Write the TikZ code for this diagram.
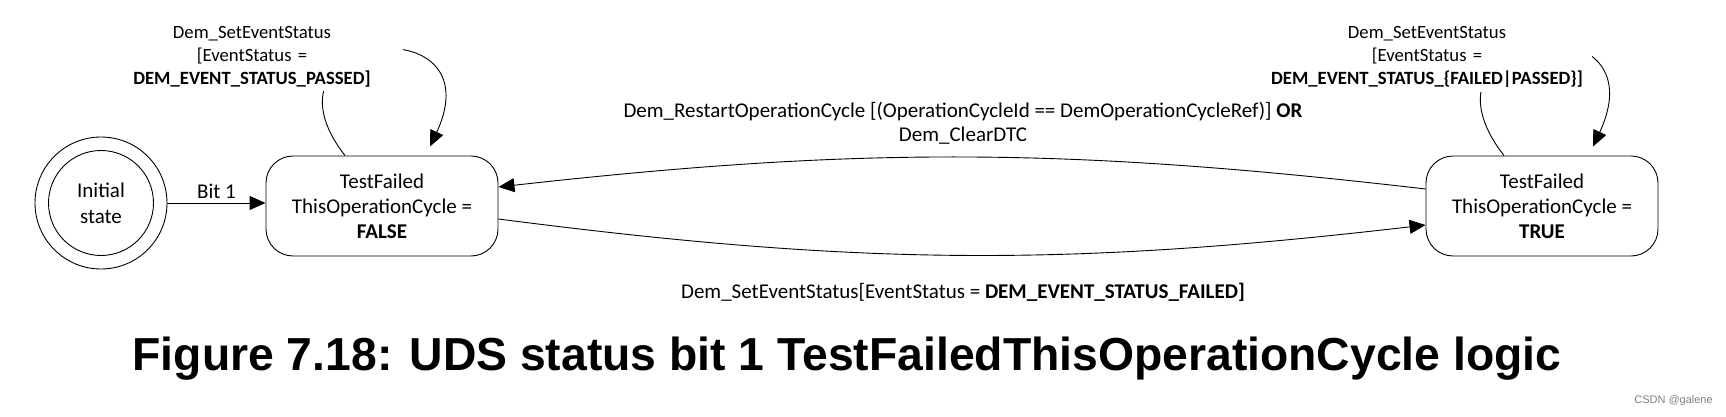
\documentclass[tikz,border=0pt]{standalone}
\usepackage{fontspec}
\setmainfont{Carlito}
\newfontfamily\titlefont{Liberation Sans}
\usepackage{tikz}
\usetikzlibrary{positioning,calc,shapes,arrows.meta}
\tikzstyle{statebox}=[draw, rounded corners=27pt, minimum width=232pt, minimum height=100pt, align=center, inner sep=0pt, line width=0.9pt, font=\fontsize{21}{25}\selectfont]
\tikzstyle{looplbl}=[fill=white, align=center, inner sep=0pt, font=\fontsize{18.7}{23}\selectfont]
\tikzstyle{edgelbl}=[align=center, font=\fontsize{21}{24}\selectfont]
\tikzstyle{arr}=[-{Triangle[length=16pt,width=14pt]}, line width=0.9pt]

\begin{document}
\begin{tikzpicture}[x=1pt,y=-1pt]
				\useasboundingbox (0,0) rectangle (1726,417);
				\fill[white] (0,0) rectangle (1726,417);
				\node[circle, draw, line width=0.9pt, minimum size=132pt] (init) at (101,203) {};
				\node[circle, draw, line width=0.9pt, minimum size=105pt, align=center, font=\fontsize{21}{26}\selectfont] (initin) at (101,203) {Initial\\state};
				\node[statebox] (false) at (382,206) {TestFailed\\ThisOperationCycle =\\\textbf{FALSE}};
				\node[statebox] (true) at (1542,206) {TestFailed\\ThisOperationCycle =\\\textbf{TRUE}};

				\draw[arr] (init.east) -- node[above, inner sep=4pt, font=\fontsize{21}{25}\selectfont] (bitlbl) {Bit 1} (init.east -| false.west);

				\draw[arr] ($(false.north)+(-37,0)$) to[out=128, in=65, looseness=4.7] ($(false.north)+(48,-9)$);
				\node[looplbl, text width=302pt, minimum height=69pt] (passlbl) at (252,57) {Dem\_SetEventStatus\\{}[EventStatus =\\\textbf{DEM\_EVENT\_STATUS\_PASSED]}};

				\draw[arr] ($(true.north)+(-38,0)$) to[out=128, in=65, looseness=4.7] ($(true.north)+(51,-9)$);
				\node[looplbl, text width=330pt, minimum height=70pt] (anylbl) at (1427,57) {Dem\_SetEventStatus\\{}[EventStatus =\\\textbf{DEM\_EVENT\_STATUS\_\{FAILED|PASSED\}]}};

				\draw[arr] ($(true.west)+(0,-17)$) to[bend right=6.5] ($(false.east)+(0,-19)$);
				\draw[arr] ($(false.east)+(0,13)$) to[bend right=7] ($(true.west)+(0,19)$);

				\node[edgelbl] (resetlbl) at (963,123) {Dem\_RestartOperationCycle [(OperationCycleId == DemOperationCycleRef)] \textbf{OR}\\Dem\_ClearDTC};
				\node[edgelbl] (faillbl) at (963,292) {Dem\_SetEventStatus[EventStatus = \textbf{DEM\_EVENT\_STATUS\_FAILED]}};

				\node[anchor=base, font=\titlefont\fontsize{46.3}{55}\selectfont\bfseries] (caption) at (847,370.7) {Figure 7.18: UDS status bit 1 TestFailedThisOperationCycle logic};
				\node[font=\titlefont\fontsize{11}{13}\selectfont, text=gray] (mark) at (1673.5,401) {CSDN @galene};
			\end{tikzpicture}
\end{document}
